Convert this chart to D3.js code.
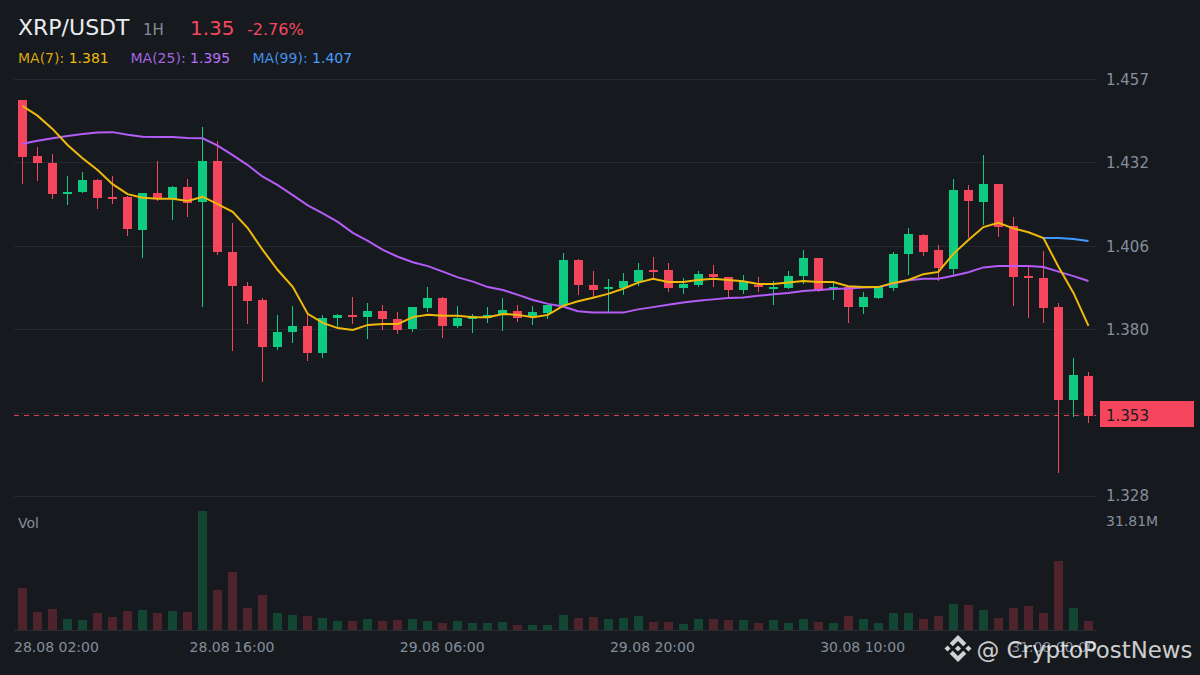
<!DOCTYPE html>
<html>
<head>
<meta charset="utf-8">
<title>XRP/USDT</title>
<script src="https://cdn.jsdelivr.net/npm/d3@7"></script>
<style>
  html, body { margin: 0; padding: 0; background: #161a1e; }
  svg { display: block; font-family: "DejaVu Sans", sans-serif; }
</style>
</head>
<body>
<svg id="chart" width="1200" height="675"></svg>
<script>
// Candles, oldest first, one per hour
const opens = [
  1.4507, 1.4333, 1.4310, 1.4215, 1.4222, 1.4259, 1.4206, 1.4206, 1.4105, 1.4218,
  1.4201, 1.4237, 1.4191, 1.4318, 1.4036, 1.3930, 1.3887, 1.3742, 1.3789, 1.3807,
  1.3724, 1.3831, 1.3841, 1.3834, 1.3853, 1.3828, 1.3797, 1.3862, 1.3893, 1.3807,
  1.3828, 1.3831, 1.3844, 1.3853, 1.3838, 1.3847, 1.3872, 1.4011, 1.3934, 1.3921,
  1.3924, 1.3943, 1.3980, 1.3980, 1.3924, 1.3934, 1.3968, 1.3958, 1.3918, 1.3934,
  1.3921, 1.3924, 1.3961, 1.4017, 1.3921, 1.3927, 1.3866, 1.3894, 1.3925, 1.4030,
  1.4088, 1.4042, 1.3983, 1.4228, 1.4191, 1.4246, 1.4116, 1.3961, 1.3955, 1.3865,
  1.3577, 1.3652
];
const highs = [
  1.4507, 1.4360, 1.4339, 1.4270, 1.4284, 1.4262, 1.4271, 1.4209, 1.4218, 1.4318,
  1.4240, 1.4262, 1.4423, 1.4380, 1.4126, 1.3943, 1.3893, 1.3841, 1.3869, 1.3844,
  1.3840, 1.3844, 1.3896, 1.3878, 1.3872, 1.3850, 1.3865, 1.3927, 1.3896, 1.3869,
  1.3844, 1.3865, 1.3893, 1.3872, 1.3869, 1.3872, 1.4033, 1.4014, 1.3977, 1.3952,
  1.3971, 1.4002, 1.4020, 1.4002, 1.3955, 1.3977, 1.3996, 1.3958, 1.3965, 1.3958,
  1.3946, 1.3977, 1.4042, 1.4017, 1.3940, 1.3930, 1.3912, 1.3927, 1.4036, 1.4110,
  1.4092, 1.4057, 1.4262, 1.4243, 1.4336, 1.4246, 1.4144, 1.3992, 1.4039, 1.3878,
  1.3707, 1.3664
];
const lows = [
  1.4246, 1.4257, 1.4201, 1.4181, 1.4218, 1.4169, 1.4184, 1.4086, 1.4018, 1.4195,
  1.4135, 1.4145, 1.3866, 1.4027, 1.3730, 1.3814, 1.3634, 1.3733, 1.3755, 1.3699,
  1.3708, 1.3803, 1.3813, 1.3766, 1.3794, 1.3782, 1.3788, 1.3850, 1.3769, 1.3800,
  1.3785, 1.3816, 1.3791, 1.3819, 1.3810, 1.3828, 1.3869, 1.3903, 1.3896, 1.3850,
  1.3903, 1.3930, 1.3949, 1.3912, 1.3906, 1.3927, 1.3927, 1.3893, 1.3906, 1.3912,
  1.3872, 1.3921, 1.3937, 1.3912, 1.3887, 1.3817, 1.3845, 1.3891, 1.3916, 1.3965,
  1.4024, 1.3946, 1.3965, 1.4079, 1.4119, 1.4082, 1.3869, 1.3831, 1.3816, 1.3351,
  1.3525, 1.3506
];
const closes = [
  1.4331, 1.4312, 1.4216, 1.4222, 1.4259, 1.4204, 1.4200, 1.4108, 1.4218, 1.4201,
  1.4237, 1.4188, 1.4318, 1.4037, 1.3931, 1.3885, 1.3742, 1.3788, 1.3807, 1.3724,
  1.3831, 1.3841, 1.3834, 1.3853, 1.3828, 1.3794, 1.3865, 1.3893, 1.3807, 1.3831,
  1.3838, 1.3841, 1.3856, 1.3831, 1.3850, 1.3872, 1.4011, 1.3934, 1.3918, 1.3927,
  1.3946, 1.3980, 1.3974, 1.3924, 1.3937, 1.3968, 1.3958, 1.3918, 1.3943, 1.3927,
  1.3927, 1.3961, 1.4017, 1.3915, 1.3927, 1.3866, 1.3896, 1.3927, 1.4030, 1.4092,
  1.4037, 1.3986, 1.4228, 1.4194, 1.4246, 1.4113, 1.3958, 1.3956, 1.3862, 1.3577,
  1.3655, 1.3528
];
// Volume in millions
const volumes = [
  11.10, 4.65, 5.46, 2.77, 2.50, 4.38, 3.31, 4.92, 5.19, 4.38,
  4.92, 4.65, 31.81, 10.57, 15.41, 5.73, 9.22, 4.38, 3.85, 3.58,
  3.04, 2.23, 2.23, 2.77, 2.23, 2.50, 2.77, 2.23, 1.69, 2.23,
  1.69, 1.69, 1.96, 1.16, 1.16, 1.16, 3.85, 3.04, 3.31, 2.77,
  3.04, 3.58, 1.96, 1.96, 1.43, 2.77, 2.77, 2.50, 2.50, 1.69,
  2.50, 1.69, 2.77, 1.96, 1.69, 3.58, 2.77, 1.69, 4.38, 4.38,
  2.77, 3.58, 6.80, 6.53, 5.19, 3.04, 5.73, 6.27, 4.38, 18.37,
  5.73, 2.23
];
// Moving averages
const ma7 = [
  1.4488, 1.4458, 1.4417, 1.4367, 1.4326, 1.4290, 1.4246, 1.4215, 1.4204, 1.4201,
  1.4201, 1.4194, 1.4207, 1.4184, 1.4160, 1.4110, 1.4042, 1.3980, 1.3928, 1.3844,
  1.3816, 1.3800, 1.3794, 1.3810, 1.3813, 1.3813, 1.3834, 1.3841, 1.3838, 1.3838,
  1.3834, 1.3834, 1.3844, 1.3841, 1.3834, 1.3841, 1.3869, 1.3883, 1.3894, 1.3906,
  1.3922, 1.3941, 1.3953, 1.3943, 1.3943, 1.3949, 1.3953, 1.3949, 1.3945, 1.3937,
  1.3937, 1.3941, 1.3946, 1.3943, 1.3943, 1.3930, 1.3927, 1.3927, 1.3940, 1.3949,
  1.3967, 1.3974, 1.4030, 1.4073, 1.4113, 1.4126, 1.4109, 1.4097, 1.4079, 1.3990,
  1.3909, 1.3807
];
const ma25 = [
  1.4371, 1.4380, 1.4388, 1.4395, 1.4401, 1.4406, 1.4407, 1.4399, 1.4393, 1.4392,
  1.4392, 1.4389, 1.4388, 1.4365, 1.4336, 1.4305, 1.4269, 1.4243, 1.4212, 1.4180,
  1.4155, 1.4129, 1.4095, 1.4070, 1.4042, 1.4021, 1.4004, 1.3992, 1.3975, 1.3957,
  1.3944, 1.3927, 1.3918, 1.3903, 1.3887, 1.3875, 1.3867, 1.3852, 1.3848, 1.3848,
  1.3848, 1.3858, 1.3865, 1.3872, 1.3879, 1.3885, 1.3889, 1.3893, 1.3895, 1.3900,
  1.3905, 1.3909, 1.3915, 1.3918, 1.3921, 1.3923, 1.3926, 1.3927, 1.3938, 1.3948,
  1.3953, 1.3953, 1.3962, 1.3973, 1.3988, 1.3992, 1.3992, 1.3992, 1.3989, 1.3975,
  1.3961, 1.3946
];
// MA99 only shows for the last few candles
const ma99Indexes = [68, 69, 70, 71];
const ma99 = [1.4079, 1.4079, 1.4076, 1.4070];

const priceTicks = [1.457, 1.4313, 1.4053, 1.3796, 1.3536, 1.328];
const priceLabels = ['1.457', '1.432', '1.406', '1.380', '', '1.328'];
const lastPrice = 1.3530;
const lastPriceLabel = '1.353';
const timeTicks = [0, 14, 28, 42, 56, 70];
const timeLabels = ['28.08 02:00', '28.08 16:00', '29.08 06:00', '29.08 20:00', '30.08 10:00', '31.08 00:00'];

const UP = '#0ecb81';
const DOWN = '#f6465d';
const GRID = '#25282d';
const MUTED = '#848e9c';

const svg = d3.select('#chart');
const chartLeft = 14;
const chartRight = 1096;

const x = d3.scalePoint()
  .domain(d3.range(closes.length))
  .range([22.5, 1088.5]);

const y = d3.scaleLinear()
  .domain([1.328, 1.457])
  .range([496, 79.5]);

const yVol = d3.scaleLinear()
  .domain([0, 31.81])
  .range([629.5, 511]);

const isUp = i => closes[i] >= opens[i];

// Grid lines and price labels
const priceAxis = d3.axisRight(y)
  .tickValues(priceTicks)
  .tickSize(chartRight - chartLeft)
  .tickPadding(10)
  .offset(0)
  .tickFormat((d, i) => priceLabels[i]);

const priceG = svg.append('g')
  .attr('transform', `translate(${chartLeft},0)`)
  .call(priceAxis);
priceG.select('.domain').remove();
priceG.selectAll('line').attr('stroke', GRID).attr('shape-rendering', 'crispEdges');
priceG.selectAll('text')
  .attr('y', 0.6)
  .attr('fill', MUTED)
  .attr('font-size', 15)
  .attr('font-family', 'DejaVu Sans');

// Current price line
svg.append('line')
  .attr('x1', chartLeft)
  .attr('x2', chartRight)
  .attr('y1', y(lastPrice))
  .attr('y2', y(lastPrice))
  .attr('stroke', DOWN)
  .attr('stroke-opacity', 0.85)
  .attr('stroke-width', 1)
  .attr('stroke-dasharray', '5,5')
  .attr('shape-rendering', 'crispEdges');

// Wicks
svg.append('g')
  .attr('shape-rendering', 'crispEdges')
  .selectAll('line')
  .data(d3.range(closes.length))
  .join('line')
  .attr('x1', i => x(i))
  .attr('x2', i => x(i))
  .attr('y1', i => y(highs[i]))
  .attr('y2', i => y(lows[i]))
  .attr('stroke', i => isUp(i) ? UP : DOWN)
  .attr('stroke-width', 1);

// Bodies
svg.append('g')
  .attr('shape-rendering', 'crispEdges')
  .selectAll('rect')
  .data(d3.range(closes.length))
  .join('rect')
  .attr('x', i => x(i) - 4.5)
  .attr('width', 9)
  .attr('y', i => y(Math.max(opens[i], closes[i])))
  .attr('height', i => Math.max(1, Math.abs(y(opens[i]) - y(closes[i]))))
  .attr('fill', i => isUp(i) ? UP : DOWN);

// Moving average lines
const maLine = d3.line()
  .x(d => x(d[0]))
  .y(d => y(d[1]));

svg.append('path')
  .datum(ma99.map((v, i) => [ma99Indexes[i], v]))
  .attr('fill', 'none')
  .attr('stroke', '#3f9bff')
  .attr('stroke-width', 2)
  .attr('d', maLine);

svg.append('path')
  .datum(ma25.map((v, i) => [i, v]))
  .attr('fill', 'none')
  .attr('stroke', '#b35cf7')
  .attr('stroke-width', 2)
  .attr('d', maLine);

svg.append('path')
  .datum(ma7.map((v, i) => [i, v]))
  .attr('fill', 'none')
  .attr('stroke', '#f0b90b')
  .attr('stroke-width', 2)
  .attr('d', maLine);

// Volume bars
svg.append('g')
  .attr('shape-rendering', 'crispEdges')
  .selectAll('rect')
  .data(d3.range(volumes.length))
  .join('rect')
  .attr('x', i => x(i) - 4.5)
  .attr('width', 9)
  .attr('y', i => yVol(volumes[i]))
  .attr('height', i => yVol(0) - yVol(volumes[i]))
  .attr('fill', i => isUp(i) ? '#124532' : '#4e232c');

// Time axis
const timeAxis = d3.axisBottom(x)
  .tickValues(timeTicks)
  .tickSize(0)
  .tickPadding(12)
  .offset(0)
  .tickFormat((d, i) => timeLabels[i]);

const timeG = svg.append('g')
  .attr('transform', 'translate(0,630)')
  .call(timeAxis);
timeG.select('.domain')
  .attr('d', `M${chartLeft},0.5H${chartRight}`)
  .attr('stroke', '#2a2e33');
timeG.selectAll('text')
  .attr('fill', MUTED)
  .attr('font-size', 14)
  .attr('font-family', 'DejaVu Sans')
  .attr('text-anchor', d => d === 0 ? 'start' : d === 70 ? 'end' : 'middle')
  .attr('x', d => d === 0 ? chartLeft - x(0) : d === 70 ? chartRight - x(70) : -0.7);

// Current price tag
svg.append('rect')
  .attr('x', 1100)
  .attr('y', 401)
  .attr('width', 94)
  .attr('height', 26)
  .attr('fill', DOWN);
svg.append('text')
  .attr('x', 1106)
  .attr('y', y(lastPrice) + 0.6)
  .attr('dy', '0.32em')
  .attr('font-size', 15)
  .attr('fill', '#1a1c22')
  .text(lastPriceLabel);

// Volume labels
svg.append('text').attr('x', 18).attr('y', 528).attr('font-size', 14).attr('fill', MUTED).text('Vol');
svg.append('text').attr('x', 1106).attr('y', 526).attr('font-size', 14).attr('fill', MUTED).text('31.81M');

// Header
svg.append('text').attr('x', 18).attr('y', 35).attr('font-size', 22).attr('fill', '#eaecef').text('XRP/USDT');
svg.append('text').attr('x', 143).attr('y', 35).attr('font-size', 15).attr('fill', MUTED).text('1H');
svg.append('text').attr('x', 190).attr('y', 35).attr('font-size', 20).attr('fill', DOWN).text('1.35');
svg.append('text').attr('x', 247).attr('y', 35).attr('font-size', 16).attr('fill', DOWN).text('-2.76%');

const maLegend = [
  { label: 'MA(7):', value: '1.381', color: '#f0b90b', x: 18 },
  { label: 'MA(25):', value: '1.395', color: '#b86ef7', x: 130.5 },
  { label: 'MA(99):', value: '1.407', color: '#4a9eff', x: 252.5 }
];
maLegend.forEach(d => {
  const t = svg.append('text').attr('x', d.x).attr('y', 63).attr('font-size', 14);
  t.append('tspan').attr('fill', d.color).attr('fill-opacity', 0.9).text(d.label + ' ');
  t.append('tspan').attr('fill', d.color).text(d.value);
});

// Watermark
const logo = svg.append('g')
  .attr('transform', 'translate(958,648.5) scale(0.2133) translate(-63.3,-63.3)')
  .attr('fill', '#ffffff')
  .attr('fill-opacity', 0.8);
logo.append('path').attr('d', 'M38.73,53.2 L63.3,28.63 L87.88,53.21 L102.2,38.9 L63.3,0 L24.4,38.9 Z');
logo.append('path').attr('d', 'M38.73,73.4 L63.3,97.97 L87.88,73.39 L102.2,87.7 L63.3,126.6 L24.4,87.7 Z');
logo.append('path').attr('d', 'M0,63.3 L14.31,48.99 L28.62,63.3 L14.31,77.61 Z');
logo.append('path').attr('d', 'M97.98,63.3 L112.29,48.99 L126.6,63.3 L112.29,77.61 Z');
logo.append('path').attr('d', 'M48.99,63.3 L63.3,48.99 L77.61,63.3 L63.3,77.61 Z');
svg.append('text')
  .attr('x', 976.5)
  .attr('y', 658)
  .attr('font-size', 22.85)
  .attr('fill', '#ffffff')
  .attr('fill-opacity', 0.8)
  .text('@ CryptoPostNews');
</script>
</body>
</html>
